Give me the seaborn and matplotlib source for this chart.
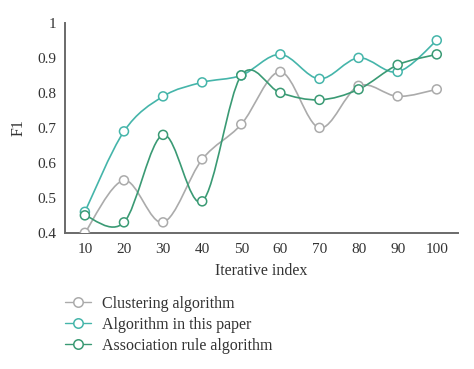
import matplotlib
matplotlib.use("Agg")
import matplotlib.pyplot as plt
from matplotlib.path import Path
from matplotlib.patches import PathPatch
from matplotlib.lines import Line2D
import numpy as np
import pandas as pd
import seaborn as sns

# data
iterations = [10, 20, 30, 40, 50, 60, 70, 80, 90, 100]
clustering = [0.40, 0.55, 0.43, 0.61, 0.71, 0.86, 0.70, 0.82, 0.79, 0.81]
this_paper = [0.46, 0.69, 0.79, 0.83, 0.85, 0.91, 0.84, 0.90, 0.86, 0.95]
association = [0.45, 0.43, 0.68, 0.49, 0.85, 0.80, 0.78, 0.81, 0.88, 0.91]
series_names = ["Clustering algorithm", "Algorithm in this paper", "Association rule algorithm"]
colors = ["#ababab", "#45b5aa", "#3a9a74"]


def smooth_path(x, y):
    # catmull-rom style smoothing drawn as cubic bezier segments (like excel "smoothed line")
    pts = np.column_stack([x, y]).astype(float)
    verts = [pts[0]]
    codes = [Path.MOVETO]
    n = len(pts)
    for i in range(n - 1):
        p0 = pts[i - 1] if i > 0 else pts[i]
        p1, p2 = pts[i], pts[i + 1]
        p3 = pts[i + 2] if i + 2 < n else pts[i + 1]
        verts += [p1 + (p2 - p0) / 6, p2 - (p3 - p1) / 6, p2]
        codes += [Path.CURVE4] * 3
    return Path(verts, codes)


sns.set_style("white")
plt.rcParams["font.family"] = ["Liberation Serif", "DejaVu Serif"]

df = pd.DataFrame({"Iterative index": iterations * 3,
                   "F1": clustering + this_paper + association,
                   "series": sum([[s] * len(iterations) for s in series_names], [])})

fig = plt.figure(figsize=(4.74, 3.69), dpi=100)
ax = fig.add_axes([0.137, 0.369, 0.829, 0.569])

for name, vals, c in zip(series_names, [clustering, this_paper, association], colors):
    ax.add_patch(PathPatch(smooth_path(iterations, vals), facecolor="none", edgecolor=c, lw=1.2, zorder=2))

sns.scatterplot(data=df, x="Iterative index", y="F1", hue="series", palette=colors,
                marker="o", s=42, linewidth=1.1, ax=ax, legend=False, zorder=3)
# seaborn sets facecolors by hue; make the markers open
for coll in ax.collections:
    coll.set_edgecolors(coll.get_facecolors())
    coll.set_facecolor("white")

ax.set_xlim(4.9, 105.4)
ax.set_ylim(0.4, 1.0)
ax.set_xticks(iterations)
ax.set_yticks([0.4, 0.5, 0.6, 0.7, 0.8, 0.9, 1.0])
ax.set_yticklabels(["0.4", "0.5", "0.6", "0.7", "0.8", "0.9", "1"])
ax.tick_params(axis="x", length=0, labelsize=11, colors="#333333", pad=7)
ax.tick_params(axis="y", length=0, labelsize=11, colors="#333333", pad=6)
for side in ["top", "right"]:
    ax.spines[side].set_visible(False)
for side in ["left", "bottom"]:
    ax.spines[side].set_color("#6a6a6a")
    ax.spines[side].set_linewidth(1.4)
ax.set_xlabel("Iterative index", fontsize=11.5, color="#333333", labelpad=5)
ax.set_ylabel("F1", fontsize=11.5, color="#333333", labelpad=8)

handles = [Line2D([], [], color=c, lw=1.0, marker="o", markersize=6.8, markerfacecolor="white",
                  markeredgecolor=c, markeredgewidth=1.1) for c in colors]
fig.legend(handles, series_names, loc="upper left", bbox_to_anchor=(0.124, 0.215),
           frameon=False, fontsize=11.5, handlelength=1.6, handletextpad=0.7,
           labelspacing=0.3, borderaxespad=0, labelcolor="#333333")

fig.savefig("out.png", dpi=100)
